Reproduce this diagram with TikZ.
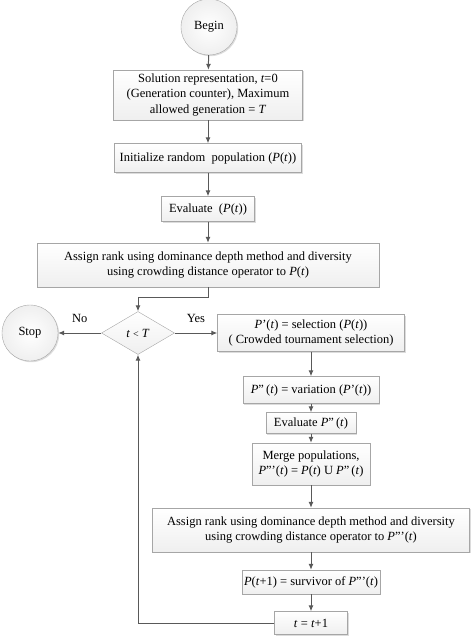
\documentclass[tikz,border=0pt]{standalone}
\usepackage{fontspec}
\setmainfont{Liberation Serif}
\usepackage{tikz}
\usetikzlibrary{arrows.meta,calc,positioning,shapes.geometric,shadows}
\definecolor{Edge}{HTML}{A6A6A6}
\definecolor{Line}{HTML}{595959}
\definecolor{Fill}{HTML}{EFEFEF}
\tikzset{box/.style={draw=Edge,top color=white,bottom color=Fill,align=center,inner sep=2pt,drop shadow={shadow xshift=1.2pt,shadow yshift=-1.2pt,fill=gray!60,opacity=.45}},term/.style={circle,draw=Edge,inner color=white,outer color=Fill,minimum size=56pt,inner sep=0pt,drop shadow={shadow xshift=1.2pt,shadow yshift=-1.2pt,fill=gray!60,opacity=.45}},decision/.style={diamond,draw=Edge,top color=white,bottom color=Fill,minimum width=73pt,minimum height=43pt,inner sep=0pt},flow/.style={-{Latex[length=6pt,width=5pt]},line width=1pt,draw=Line}}
\newcommand{\iP}{\textit{P}}
\newcommand{\iT}{\textit{t}}
\begin{document}
\begin{tikzpicture}[x=1pt,y=-1pt,font=\fontsize{12.5}{15.5}\selectfont]
        \useasboundingbox(0,0)rectangle(474,639);
        \node[term](begin)at(209,27){Begin};
        \node[box,minimum width=189pt,minimum height=50pt](sol)at(208,95){Solution representation, \iT=0\\(Generation counter), Maximum\\allowed generation = \textit{T}};
        \node[box,minimum width=187pt,minimum height=29pt](init)at(208,158){Initialize random\ \ population (\iP(\iT))};
        \node[box,minimum width=93pt,minimum height=25pt](evalp)at(208,209){Evaluate\ \ (\iP(\iT))};
        \node[box,minimum width=342pt,minimum height=44pt](rankp)at(208,265){Assign rank using dominance depth method and diversity\\using crowding distance operator to \iP(\iT)};
        \node[decision](test)at(138,333){\iT\ {\fontsize{10}{12}\selectfont<}\ \textit{T}};
        \node[term](stop)at(30,333){Stop};
        \node[box,minimum width=187pt,minimum height=37pt](sel)at(311,333){\iP'(\iT) = selection (\iP(\iT))\\( Crowded tournament selection)};
        \node[box,minimum width=136pt,minimum height=27pt](var)at(311,390){\iP''\,(\iT) = variation (\iP'(\iT))};
        \node[box,minimum width=90pt,minimum height=21pt](evalq)at(311,423){Evaluate \iP''\,(\iT)};
        \node[box,minimum width=118pt,minimum height=42pt](merge)at(311,464){Merge populations,\\\iP'''(\iT) = \iP(\iT) U \iP''\,(\iT)};
        \node[box,minimum width=317pt,minimum height=44pt](rankq)at(311,530){Assign rank using dominance depth method and diversity\\using crowding distance operator to \iP'''(\iT)};
        \node[box,minimum width=137pt,minimum height=24pt](surv)at(311,582){\iP(\iT+1) = survivor of \iP'''(\iT)};
        \node[box,minimum width=73pt,minimum height=23pt](inc)at(311,623){\iT\ = \iT+1};
        \draw[flow](begin)--(sol);
        \draw[flow](sol)--(init);
        \draw[flow](init)--(evalp);
        \draw[flow](evalp)--(rankp);
        \draw[flow](rankp.south)--++(0,10)-|(test.north);
        \draw[flow](test)--node[above=7pt]{No}(stop);
        \draw[flow](test)--node[above=7pt]{Yes}(sel);
        \draw[flow](sel)--(var);
        \draw[flow](var)--(evalq);
        \draw[flow](evalq)--(merge);
        \draw[flow](merge)--(rankq);
        \draw[flow](rankq)--(surv);
        \draw[flow](surv)--(inc);
        \draw[flow](inc.west)-|(test.south);
      \end{tikzpicture}
\end{document}
